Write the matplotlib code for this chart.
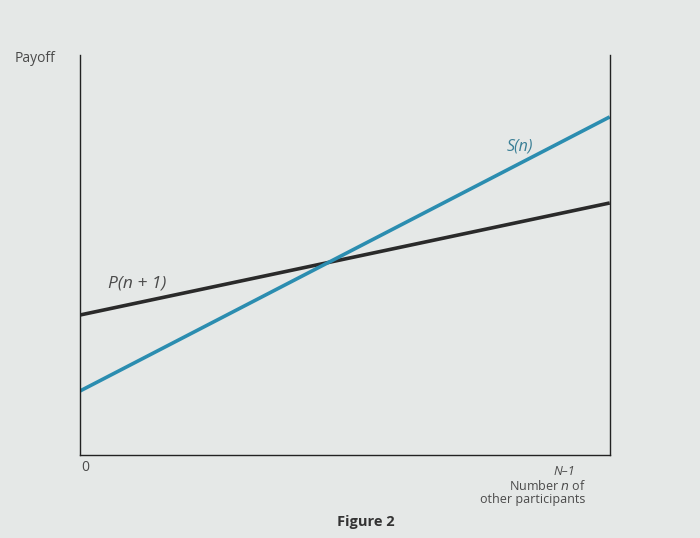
import matplotlib.pyplot as plt

# number of other participants (0 .. N-1, scaled to 0..1)
n_vals = [0, 1]
# payoff curves
p_vals = [3.5, 6.3]     # P(n + 1)
s_vals = [1.6, 8.45]    # S(n)

bg = '#e5e8e7'
text_col = '#4a4a4a'
plt.rcParams['font.family'] = ['Open Sans', 'DejaVu Sans']

fig = plt.figure(figsize=(7, 5.38), dpi=100, facecolor=bg)
ax = fig.add_axes([0.114, 0.154, 0.757, 0.744], facecolor=bg)

ax.plot(n_vals, p_vals, color='#2a2a2a', lw=2.6, solid_capstyle='butt')
ax.plot(n_vals, s_vals, color='#2b8db0', lw=2.6, solid_capstyle='butt')

ax.set_xlim(0, 1)
ax.set_ylim(0, 10)
ax.set_xticks([])
ax.set_yticks([])
ax.spines['top'].set_visible(False)
for side in ['left', 'right', 'bottom']:
    ax.spines[side].set_color('#222222')
    ax.spines[side].set_linewidth(1.0)

# labels on the curves
ax.text(0.053, 4.2, 'P(n + 1)', fontsize=12.5, color=text_col, style='italic')
ax.text(0.805, 7.6, 'S(n)', fontsize=11.5, color='#3a7f96', style='italic')

# axis annotations
ax.text(-0.085, 9.9, 'Payoff', fontsize=10, color=text_col, ha='center', va='center')
ax.text(0.01, -0.3, '0', fontsize=10, color=text_col, ha='center', va='center')
ax.text(0.935, -0.42, 'N\u20131', fontsize=9, color=text_col, ha='right', va='center', style='italic')
ax.text(0.955, -0.76, 'Number $n$ of', fontsize=9, color=text_col, ha='right', va='center')
ax.text(0.955, -1.1, 'other participants', fontsize=9, color=text_col, ha='right', va='center')

fig.text(0.523, 0.03, 'Figure 2', fontsize=10.5, fontweight='bold', color='#333333', ha='center', va='center')

plt.savefig('out.png', dpi=100, facecolor=bg)
